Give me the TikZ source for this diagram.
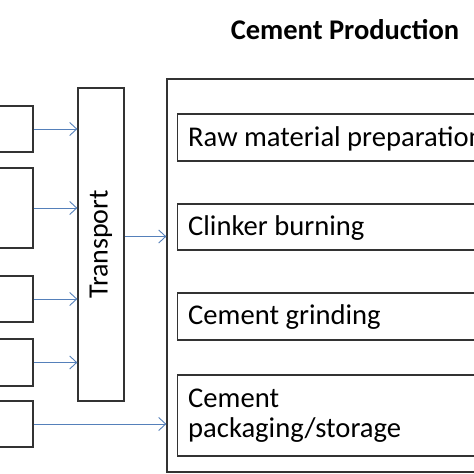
\documentclass[tikz,border=0pt]{standalone}
\usepackage{fontspec}
\setmainfont{Carlito}
\usetikzlibrary{arrows.meta}
\definecolor{arrowblue}{HTML}{5580BA}

\begin{document}
\begin{tikzpicture}[
        x=1pt, y=-1pt,
        every node/.style={font=\fontsize{28.6}{30}\selectfont},
        box/.style 2 args={draw=black!80,line width=1.3pt,inner sep=0pt,minimum width=#1pt,minimum height=#2pt},
        stepbox/.style={box={362}{#1},anchor=west},
        steptext/.style={anchor=west,xshift=11pt,inner sep=0pt},
        flow/.style={-{Straight Barb[length=7pt,width=13pt]},draw=arrowblue,line width=0.9pt}
    ]
        \useasboundingbox (0,0) rectangle (474,474);
        \clip (0,0) rectangle (474,474);

        \node [font=\bfseries\fontsize{28.5}{30}\selectfont] (title) at (345,30) {Cement Production};

        \node [box={60}{46}] (src1) at (3,129)   {};
        \node [box={60}{80}] (src2) at (3,208)   {};
        \node [box={60}{46}] (src3) at (3,299)   {};
        \node [box={60}{47}] (src4) at (3,362.5) {};
        \node [box={60}{46}] (src5) at (3,424)   {};

        \node [box={46}{313}] (transport) at (101,244.5) {};
        \node [rotate=90,font=\fontsize{28}{30}\selectfont] (transportlabel) at (transport.center) {Transport};

        \node [box={323}{393}] (plant) at (328.5,275.5) {};
        \node [stepbox=47] (raw)       at (177,137.5) {};
        \node [stepbox=46] (clinker)   at (177,227)   {};
        \node [stepbox=47] (grinding)  at (177,316.5) {};
        \node [stepbox=81] (packaging) at (177,415.5) {};
        \node [steptext,yshift=-1pt] (rawtext)       at (raw.west)       {Raw material preparation};
        \node [steptext,yshift=-1pt] (clinkertext)   at (clinker.west)   {Clinker burning};
        \node [steptext,yshift=-1pt] (grindingtext)  at (grinding.west)  {Cement grinding};
        \node [steptext,align=left] (packagingtext) at (packaging.west) {Cement\\packaging/storage};

        \foreach \n in {1,...,4}
            \draw [flow] (src\n.east) -- (src\n.east -| transport.west);
        \draw [flow] ([yshift=8pt]transport.east) -- ([yshift=8pt]transport.east -| plant.west);
        \draw [flow] (src5.east) -- (src5.east -| plant.west);
    \end{tikzpicture}
\end{document}
